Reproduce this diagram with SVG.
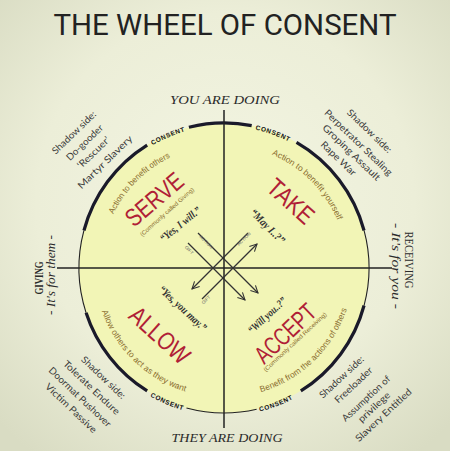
<svg xmlns="http://www.w3.org/2000/svg" width="450" height="451" viewBox="0 0 450 451">
<defs>
<radialGradient id="bg" cx="50%" cy="45%" r="70%">
<stop offset="0" stop-color="#f3f5e2"/>
<stop offset="0.6" stop-color="#eceed8"/>
<stop offset="1" stop-color="#d9dcc3"/>
</radialGradient>
<marker id="ah" viewBox="0 0 10 10" refX="9" refY="5" markerWidth="9" markerHeight="9" markerUnits="userSpaceOnUse" orient="auto">
<path d="M1,1 L9,5 L1,9" fill="none" stroke="#333" stroke-width="1.2"/>
</marker>
<path id="pServe" d="M105.19,236.17 A123,123 0 0 1 192.17,149.19"/>
<path id="pTake" d="M255.83,149.19 A123,123 0 0 1 342.81,236.17"/>
<path id="pAllow" d="M99.51,303.69 A129.5,129.5 0 0 0 192.67,393.65"/>
<path id="pAccept" d="M255.33,393.65 A129.5,129.5 0 0 0 348.49,303.69"/>
<path id="cTL" d="M127.16,164.14 A142,142 0 0 1 216.57,126.2"/>
<path id="cTR" d="M224,126 A142,142 0 0 1 315.28,159.22"/>
<path id="cBL" d="M123.06,376.25 A148,148 0 0 0 216.26,415.79"/>
<path id="cBR" d="M226.58,415.98 A148,148 0 0 0 321.1,379.7"/>
</defs>
<style>
.title{font-family:"Roboto","Liberation Sans",sans-serif;font-size:30px;fill:#222}
.doing{font-family:"Liberation Serif",serif;font-style:italic;font-size:13px;fill:#2a2a2a}
.side{font-family:"Liberation Serif",serif;font-size:12px;fill:#2a2a2a}
.sideB{font-weight:bold}
.sideI{font-style:italic}
.quad{font-family:"Liberation Sans",sans-serif;font-size:25px;fill:#b01e36}
.note{font-family:"Liberation Sans",sans-serif;font-size:6px;fill:#8a6d2f}
.curve{font-family:"Liberation Sans",sans-serif;font-size:8.5px;fill:#8a6d2f}
.quote{font-family:"Liberation Serif",serif;font-style:italic;font-weight:bold;font-size:11px;fill:#333}
.consent{font-family:"Liberation Sans",sans-serif;font-weight:bold;font-size:6.5px;fill:#111;letter-spacing:0.6px}
.shadow{font-family:"Lato","Open Sans",sans-serif;font-size:9.5px;fill:#3c3c3c}
.tiny{font-family:"Liberation Sans",sans-serif;font-size:4.5px;fill:#666}
.axis{stroke:#222;stroke-width:1.5;fill:none}
.thin{stroke:#222;stroke-width:1.1;fill:none}
.thick{stroke:#1a1a2a;stroke-width:3.2;fill:none}
.arrow{stroke:#333;stroke-width:1.2;fill:none}
</style>
<rect width="450" height="451" fill="url(#bg)"/>
<text class="title" x="225" y="35" text-anchor="middle" textLength="343" lengthAdjust="spacingAndGlyphs">THE WHEEL OF CONSENT</text>
<g id="wheel">
<circle cx="224" cy="268" r="145" fill="#f2f5b6"/>
<path class="thick" d="M83.94,230.47 A145,145 0 0 1 147.16,145.04"/>
<path class="thick" d="M188.92,127.31 A145,145 0 0 1 251.67,125.67"/>
<path class="thick" d="M296.5,142.43 A145,145 0 0 1 364.06,230.47"/>
<path class="thick" d="M364.06,305.53 A145,145 0 0 1 300.84,390.96"/>
<path class="thick" d="M147.16,390.96 A145,145 0 0 1 86.09,312.81"/>
<path class="thin" d="M364.06,230.47 A145,145 0 0 1 364.06,305.53"/>
<path class="thin" d="M256.62,409.28 A145,145 0 0 1 186.47,408.06"/>
<path class="thin" d="M86.09,312.81 A145,145 0 0 1 83.94,230.47"/>
<line class="axis" x1="224" y1="110" x2="224" y2="428"/>
<line class="axis" x1="57" y1="268" x2="392" y2="268"/>
<text class="consent"><textPath href="#cTL" startOffset="50%" text-anchor="middle">CONSENT</textPath></text>
<text class="consent"><textPath href="#cTR" startOffset="50%" text-anchor="middle">CONSENT</textPath></text>
<text class="consent"><textPath href="#cBL" startOffset="50%" text-anchor="middle">CONSENT</textPath></text>
<text class="consent"><textPath href="#cBR" startOffset="50%" text-anchor="middle">CONSENT</textPath></text>
</g>
<g id="axis-labels">
<text class="doing" x="225" y="104" text-anchor="middle" textLength="110" lengthAdjust="spacingAndGlyphs">YOU ARE DOING</text>
<text class="doing" x="227" y="442" text-anchor="middle" textLength="111" lengthAdjust="spacingAndGlyphs">THEY ARE DOING</text>
<g id="giving">
<text class="side sideB" transform="translate(43,278) rotate(-90)" text-anchor="middle" textLength="33" lengthAdjust="spacingAndGlyphs">GIVING</text>
<text class="side sideI" transform="translate(55,275) rotate(-90)" text-anchor="middle" textLength="80" lengthAdjust="spacingAndGlyphs">- It's for them -</text>
</g>
<g id="receiving">
<text class="side" transform="translate(405,260) rotate(90)" text-anchor="middle" textLength="57" lengthAdjust="spacingAndGlyphs">RECEIVING</text>
<text class="side sideI" transform="translate(392,266) rotate(90)" text-anchor="middle" textLength="86" lengthAdjust="spacingAndGlyphs">- It's for you -</text>
</g>
</g>
<g id="serve">
<text class="curve"><textPath href="#pServe" startOffset="50%" text-anchor="middle" textLength="82" lengthAdjust="spacingAndGlyphs">Action to benefit others</textPath></text>
<text class="quad" transform="translate(154,199) rotate(-40.5)" y="9" text-anchor="middle" textLength="68" lengthAdjust="spacingAndGlyphs">SERVE</text>
<text class="note" transform="translate(167,212) rotate(-41.7)" y="2" text-anchor="middle" textLength="70" lengthAdjust="spacingAndGlyphs">(Commonly called Giving)</text>
<text class="quote" transform="translate(180,224) rotate(-38.7)" y="4" text-anchor="middle" textLength="49" lengthAdjust="spacingAndGlyphs">“Yes, I will.”</text>
</g>
<g id="take">
<text class="curve"><textPath href="#pTake" startOffset="50%" text-anchor="middle" textLength="95" lengthAdjust="spacingAndGlyphs">Action to benefit yourself</textPath></text>
<text class="quad" transform="translate(291,201) rotate(42)" y="9" text-anchor="middle" textLength="54" lengthAdjust="spacingAndGlyphs">TAKE</text>
<text class="quote" transform="translate(268,226) rotate(45)" y="4" text-anchor="middle" textLength="44" lengthAdjust="spacingAndGlyphs">“May I..?”</text>
</g>
<g id="allow">
<text class="curve"><textPath href="#pAllow" startOffset="50%" text-anchor="middle" textLength="120" lengthAdjust="spacingAndGlyphs">Allow others to act as they want</textPath></text>
<text class="quad" transform="translate(160,335) rotate(42)" y="9" text-anchor="middle" textLength="72" lengthAdjust="spacingAndGlyphs">ALLOW</text>
<text class="quote" transform="translate(183,308) rotate(42.8)" y="4" text-anchor="middle" textLength="61" lengthAdjust="spacingAndGlyphs">“Yes, you may.”</text>
</g>
<g id="accept">
<text class="curve"><textPath href="#pAccept" startOffset="50%" text-anchor="middle" textLength="124" lengthAdjust="spacingAndGlyphs">Benefit from the actions of others</textPath></text>
<text class="quad" transform="translate(285,333) rotate(-43.4)" y="9" text-anchor="middle" textLength="74" lengthAdjust="spacingAndGlyphs">ACCEPT</text>
<text class="note" transform="translate(295,342) rotate(-43)" y="2" text-anchor="middle" textLength="84" lengthAdjust="spacingAndGlyphs">(Commonly called Receiving)</text>
<text class="quote" transform="translate(267,315) rotate(-42.6)" y="4" text-anchor="middle" textLength="48" lengthAdjust="spacingAndGlyphs">“Will you..?”</text>
</g>
<g id="shadow-serve">
<text class="shadow" transform="translate(74,132.5) rotate(-44)" y="3.3" text-anchor="middle" textLength="57" lengthAdjust="spacingAndGlyphs">Shadow side:</text>
<text class="shadow" transform="translate(84.5,142.5) rotate(-44)" y="3.3" text-anchor="middle" textLength="47" lengthAdjust="spacingAndGlyphs">Do-gooder</text>
<text class="shadow" transform="translate(93.5,152.5) rotate(-44)" y="3.3" text-anchor="middle" textLength="41" lengthAdjust="spacingAndGlyphs">‘Rescuer’</text>
<text class="shadow" transform="translate(105,162) rotate(-44)" y="3.3" text-anchor="middle" textLength="72" lengthAdjust="spacingAndGlyphs">Martyr   Slavery</text>
</g>
<g id="shadow-take">
<text class="shadow" transform="translate(369.5,131) rotate(44)" y="3.3" text-anchor="middle" textLength="58" lengthAdjust="spacingAndGlyphs">Shadow side:</text>
<text class="shadow" transform="translate(358.5,142.5) rotate(44)" y="3.3" text-anchor="middle" textLength="90" lengthAdjust="spacingAndGlyphs">Perpetrator   Stealing</text>
<text class="shadow" transform="translate(351.5,152.5) rotate(44)" y="3.3" text-anchor="middle" textLength="76" lengthAdjust="spacingAndGlyphs">Groping   Assault</text>
<text class="shadow" transform="translate(338.5,158.5) rotate(44)" y="3.3" text-anchor="middle" textLength="45" lengthAdjust="spacingAndGlyphs">Rape   War</text>
</g>
<g id="shadow-allow">
<text class="shadow" transform="translate(103.5,377.5) rotate(43.6)" y="3.3" text-anchor="middle" textLength="57" lengthAdjust="spacingAndGlyphs">Shadow side:</text>
<text class="shadow" transform="translate(91.5,387.5) rotate(43.6)" y="3.3" text-anchor="middle" textLength="74" lengthAdjust="spacingAndGlyphs">Tolerate   Endure</text>
<text class="shadow" transform="translate(80,397) rotate(43.6)" y="3.3" text-anchor="middle" textLength="82" lengthAdjust="spacingAndGlyphs">Doormat   Pushover</text>
<text class="shadow" transform="translate(71,408) rotate(43.6)" y="3.3" text-anchor="middle" textLength="67" lengthAdjust="spacingAndGlyphs">Victim   Passive</text>
</g>
<g id="shadow-accept">
<text class="shadow" transform="translate(341.5,377) rotate(-43)" y="3.3" text-anchor="middle" textLength="57" lengthAdjust="spacingAndGlyphs">Shadow side:</text>
<text class="shadow" transform="translate(353.5,385) rotate(-43)" y="3.3" text-anchor="middle" textLength="48" lengthAdjust="spacingAndGlyphs">Freeloader</text>
<text class="shadow" transform="translate(366,398.5) rotate(-43)" y="3.3" text-anchor="middle" textLength="62" lengthAdjust="spacingAndGlyphs">Assumption of</text>
<text class="shadow" transform="translate(374,407) rotate(-43)" y="3.3" text-anchor="middle" textLength="40" lengthAdjust="spacingAndGlyphs">privilege</text>
<text class="shadow" transform="translate(383.5,415) rotate(-43)" y="3.3" text-anchor="middle" textLength="73" lengthAdjust="spacingAndGlyphs">Slavery   Entitled</text>
</g>
<g id="connectors">
<line class="arrow" x1="198" y1="233" x2="258" y2="293" marker-end="url(#ah)"/>
<line class="arrow" x1="188" y1="243" x2="245" y2="300" marker-end="url(#ah)"/>
<line class="arrow" x1="248" y1="233" x2="192" y2="289" marker-end="url(#ah)"/>
<line class="arrow" x1="202" y1="299" x2="257" y2="244" marker-end="url(#ah)"/>
<text class="tiny" transform="translate(205,243) rotate(45)" text-anchor="middle">ACTION</text>
<text class="tiny" transform="translate(188,251) rotate(45)" text-anchor="middle">GIFT</text>
<text class="tiny" transform="translate(245,240) rotate(-45)" text-anchor="middle">ACTION</text>
<text class="tiny" transform="translate(207,301) rotate(-45)" text-anchor="middle">GIFT</text>
</g>
</svg>
